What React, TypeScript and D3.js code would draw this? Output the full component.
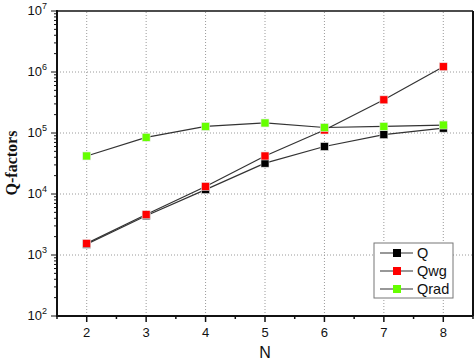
import * as d3 from "d3";

const nValues = [2, 3, 4, 5, 6, 7, 8];
const qValues = [1500, 4400, 11800, 32000, 60000, 94000, 120000];
const qwgValues = [1550, 4600, 13300, 42000, 112000, 350000, 1220000];
const qradValues = [42000, 85000, 128000, 146000, 123000, 128000, 135000];
const yExponents = [2, 3, 4, 5, 6, 7];
const seriesNames = ["Q", "Qwg", "Qrad"];
const seriesColors = ["#000000", "#ff0000", "#66ff00"];

const W = 474;
const H = 364;
const margin = { top: 11, right: 1, bottom: 48, left: 57 };

const App = () => {
  const x = d3.scaleLinear().domain([1.5, 8.5]).range([margin.left, W - margin.right]);
  const y = d3.scaleLog().domain([1e2, 1e7]).range([H - margin.bottom, margin.top]);
  const x0 = margin.left;
  const x1 = W - margin.right;
  const y0 = H - margin.bottom;
  const y1 = margin.top;

  const series = [qValues, qwgValues, qradValues];
  const line = d3
    .line<number>()
    .x((_, i) => x(nValues[i]))
    .y((d) => y(d));

  // log minor ticks 2..9 of each decade
  const minorY: number[] = [];
  yExponents.slice(0, -1).forEach((e) => {
    for (let k = 2; k < 10; k++) minorY.push(k * Math.pow(10, e));
  });
  const minorX = d3.range(1.5, 8.6, 1);

  const font = "'Liberation Sans', Arial, sans-serif";
  const ms = 8;

  return (
    <svg
      width={W}
      height={H}
      style={{ position: "absolute", left: 0, top: 0, background: "white" }}
    >
      {/* grid */}
      <g stroke="#9a9a9a" strokeWidth={1} strokeDasharray="1,2">
        {nValues.map((n) => (
          <line key={n} x1={x(n)} x2={x(n)} y1={y0} y2={y1} />
        ))}
        {yExponents.slice(1, -1).map((e) => (
          <line key={e} x1={x0} x2={x1} y1={y(Math.pow(10, e))} y2={y(Math.pow(10, e))} />
        ))}
      </g>

      {/* series */}
      {series.map((vals, si) => (
        <g key={seriesNames[si]}>
          <path d={line(vals) ?? ""} fill="none" stroke="#333" strokeWidth={1.2} />
          {vals.map((v, i) => (
            <rect
              key={i}
              x={x(nValues[i]) - ms / 2}
              y={y(v) - ms / 2}
              width={ms}
              height={ms}
              fill={seriesColors[si]}
              stroke="#e8e8e8"
              strokeWidth={0.6}
            />
          ))}
        </g>
      ))}

      {/* frame */}
      <line x1={x0} x2={x1} y1={y1} y2={y1} stroke="#111" strokeWidth={1.5} />
      <line x1={x1} x2={x1} y1={y1} y2={y0} stroke="#111" strokeWidth={2} />
      <line x1={x0} x2={x0} y1={y1 - 1} y2={y0 + 1} stroke="#111" strokeWidth={2} />
      <line x1={x0 - 1} x2={x1} y1={y0} y2={y0} stroke="#111" strokeWidth={2} />

      {/* y ticks */}
      <g stroke="#111" strokeWidth={1}>
        {yExponents.map((e) => (
          <line key={e} x1={x0 - 6} x2={x0} y1={y(Math.pow(10, e))} y2={y(Math.pow(10, e))} />
        ))}
        {minorY.map((v) => (
          <line key={v} x1={x0 - 3} x2={x0} y1={y(v)} y2={y(v)} />
        ))}
      </g>
      <g fontFamily={font} fontSize={13} fill="#111" textAnchor="end">
        {yExponents.map((e) => (
          <text key={e} x={x0 - 10} y={y(Math.pow(10, e)) + 4}>
            10
            <tspan fontSize={9} dy={-6}>
              {e}
            </tspan>
          </text>
        ))}
      </g>

      {/* x ticks */}
      <g stroke="#111" strokeWidth={1.5}>
        {nValues.map((n) => (
          <line key={n} x1={x(n)} x2={x(n)} y1={y0} y2={y0 + 6} />
        ))}
        {minorX.map((n) => (
          <line key={n} x1={x(n)} x2={x(n)} y1={y0} y2={y0 + 3} />
        ))}
      </g>
      <g fontFamily={font} fontSize={13} fill="#111" textAnchor="middle">
        {nValues.map((n) => (
          <text key={n} x={x(n)} y={y0 + 21}>
            {n}
          </text>
        ))}
      </g>

      {/* axis titles */}
      <text x={(x0 + x1) / 2} y={358} fontFamily={font} fontSize={16} textAnchor="middle" fill="#111">
        N
      </text>
      <text
        transform="translate(17,163) rotate(-90)"
        fontFamily="'Liberation Serif', 'Times New Roman', serif"
        fontWeight="bold"
        fontSize={16}
        textAnchor="middle"
        fill="#111"
      >
        Q-factors
      </text>

      {/* legend */}
      <g transform="translate(374,243)">
        <rect width={79} height={55} fill="white" stroke="#777" strokeWidth={1} />
        {seriesNames.map((name, i) => (
          <g key={name} transform={`translate(0,${10 + i * 18})`}>
            <line x1={6} x2={39} y1={0} y2={0} stroke="#333" strokeWidth={1.2} />
            <rect x={23 - ms / 2} y={-ms / 2} width={ms} height={ms} fill={seriesColors[i]} />
            <text x={43} y={5} fontFamily={font} fontSize={14.5} fill="#111">
              {name}
            </text>
          </g>
        ))}
      </g>
    </svg>
  );
};

export default App;
